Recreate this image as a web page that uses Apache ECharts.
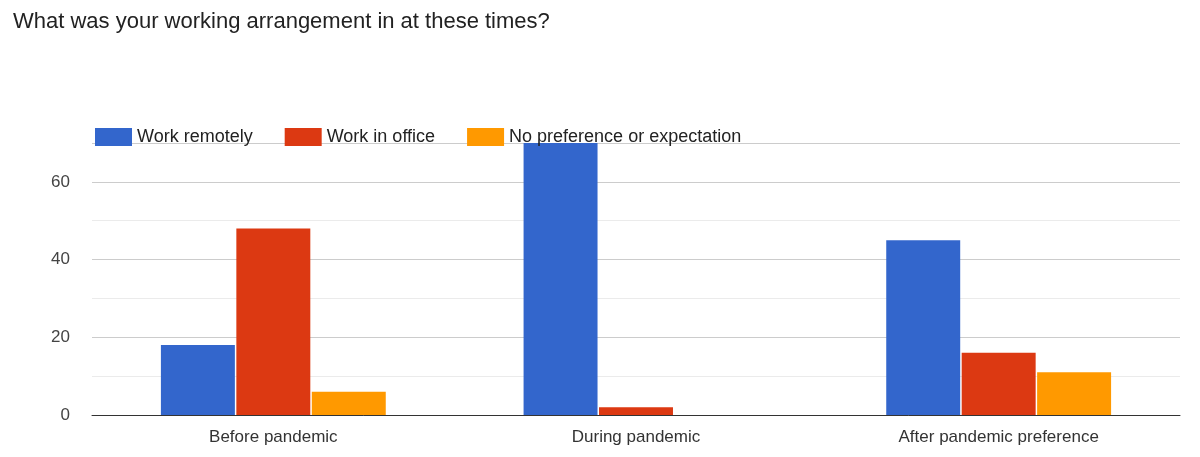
<!DOCTYPE html>
<html><head><meta charset="utf-8">
<script src="https://cdn.jsdelivr.net/npm/echarts@6/dist/echarts.min.js"></script>
<style>html,body{margin:0;padding:0;background:#fff}#c{width:1200px;height:457px}</style>
</head><body><div id="c"></div>
<script>
var categories = ["Before pandemic", "During pandemic", "After pandemic preference"];
var remote = [18, 71, 45];
var office = [48, 2, 16];
var noPref = [6, 0, 11];
var yTicks = [0, 20, 40, 60];

var chart = echarts.init(document.getElementById('c'));
var f = 'Liberation Sans, Arial, sans-serif';
function s(name, data, color) {
  return {name: name, type: 'bar', data: data, itemStyle: {color: color}, barGap: '2%', barCategoryGap: '38%'};
}
chart.setOption({
  animation: false,
  textStyle: {fontFamily: f},
  title: {text: 'What was your working arrangement in at these times?', left: 8, top: 6,
    textStyle: {fontSize: 22, fontWeight: 'normal', color: '#222', fontFamily: f}},
  legend: {left: 90, top: 123, itemWidth: 37, itemHeight: 18, itemGap: 32, icon: 'rect',
    textStyle: {fontSize: 18, color: '#222', fontFamily: f}},
  grid: {left: 92, right: 20, top: 143, bottom: 42},
  xAxis: {type: 'category', data: categories,
    axisTick: {show: false}, axisLine: {lineStyle: {color: '#333'}},
    axisLabel: {fontSize: 17, color: '#333', margin: 14}},
  yAxis: {type: 'value', min: 0, max: 70, interval: 20,
    axisLabel: {fontSize: 17, color: '#444', margin: 22,
      formatter: function(v){ return yTicks.indexOf(v) >= 0 ? v : ''; }},
    splitLine: {lineStyle: {color: '#ccc'}},
    minorTick: {show: false, splitNumber: 2},
    minorSplitLine: {show: true, lineStyle: {color: '#ebebeb'}}},
  series: [s('Work remotely', remote, '#3366cc'), s('Work in office', office, '#dc3912'), s('No preference or expectation', noPref, '#ff9900')]
});
</script></body></html>
